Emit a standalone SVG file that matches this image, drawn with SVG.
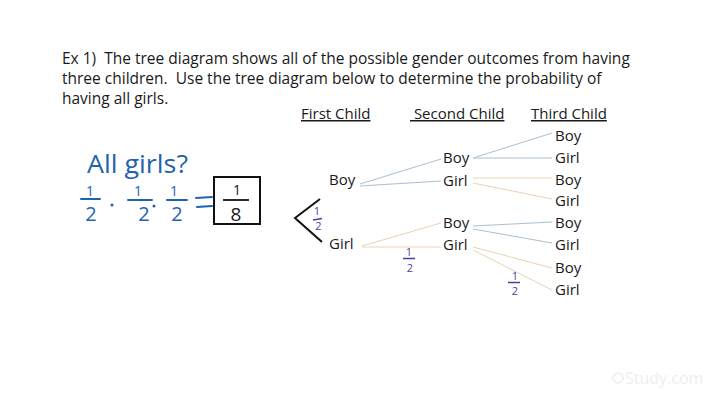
<svg xmlns="http://www.w3.org/2000/svg" width="715" height="402" viewBox="0 0 715 402">
<style>
.t{font-family:"Open Sans","Liberation Sans",sans-serif;fill:#1a1a1a;white-space:pre}
.h{font-size:15.5px}
.n{font-size:15px}
.c{font-size:15px;text-decoration:underline}
.b{stroke:#a9bfd2;stroke-width:1;fill:none}
.g{stroke:#e8d2b4;stroke-width:1;fill:none}
.hw{font-family:"Open Sans","Liberation Sans",sans-serif;fill:#1f63b0}
.pu{font-family:"Open Sans","Liberation Sans",sans-serif;fill:#4b3f9a;font-size:11px}
.pl{stroke:#4b3f9a;stroke-width:1.5}
.bl{stroke:#1f63b0;stroke-width:2;fill:none;stroke-linecap:round}
</style>
<rect width="715" height="402" fill="#ffffff"/>
<g id="question">
<text class="t h" x="62" y="64">Ex 1)  The tree diagram shows all of the possible gender outcomes from having</text>
<text class="t h" x="62" y="84">three children.  Use the tree diagram below to determine the probability of</text>
<text class="t h" x="62" y="104">having all girls.</text>
</g>
<g id="headers">
<text class="t c" x="301" y="119">First Child</text>
<text class="t c" x="410" y="119"> Second Child</text>
<text class="t c" x="531" y="119">Third Child</text>
</g>
<g id="connectors">
<line class="b" x1="360" y1="184" x2="441" y2="159"/>
<line class="b" x1="360" y1="186" x2="441" y2="181"/>
<line class="g" x1="362" y1="246" x2="441" y2="223"/>
<line class="g" x1="362" y1="247" x2="441" y2="247"/>
<line class="b" x1="473" y1="158" x2="552" y2="133"/>
<line class="b" x1="473" y1="158" x2="552" y2="158"/>
<line class="g" x1="473" y1="178" x2="552" y2="178"/>
<line class="g" x1="473" y1="183" x2="552" y2="199"/>
<line class="b" x1="473" y1="226" x2="552" y2="222"/>
<line class="b" x1="473" y1="229" x2="552" y2="243"/>
<line class="g" x1="473" y1="247" x2="552" y2="268"/>
<line class="g" x1="473" y1="250" x2="552" y2="290"/>
<polyline points="320,199 295,218 322,242" fill="none" stroke="#111" stroke-width="2"/>
</g>
<g id="n1-boy"><text class="t n" x="329" y="185">Boy</text></g>
<g id="n1-girl"><text class="t n" x="329" y="249">Girl</text></g>
<g id="n2-boy-a"><text class="t n" x="443" y="163">Boy</text></g>
<g id="n2-girl-a"><text class="t n" x="443" y="186">Girl</text></g>
<g id="n2-boy-b"><text class="t n" x="443" y="228">Boy</text></g>
<g id="n2-girl-b"><text class="t n" x="443" y="250">Girl</text></g>
<g id="n3-1"><text class="t n" x="555" y="141">Boy</text></g>
<g id="n3-2"><text class="t n" x="555" y="163">Girl</text></g>
<g id="n3-3"><text class="t n" x="555" y="185">Boy</text></g>
<g id="n3-4"><text class="t n" x="555" y="206">Girl</text></g>
<g id="n3-5"><text class="t n" x="555" y="228">Boy</text></g>
<g id="n3-6"><text class="t n" x="555" y="250">Girl</text></g>
<g id="n3-7"><text class="t n" x="555" y="273">Boy</text></g>
<g id="n3-8"><text class="t n" x="555" y="295">Girl</text></g>
<g id="half-labels">
<text class="pu" x="317" y="215" text-anchor="middle" font-size="7">1</text>
<line class="pl" x1="313" y1="220" x2="322" y2="218.5"/>
<text class="pu" x="318.5" y="229.5" text-anchor="middle" font-size="9">2</text>
<text class="pu" x="409" y="256" text-anchor="middle" font-size="7">1</text>
<line class="pl" x1="403" y1="258.5" x2="415" y2="258.5"/>
<text class="pu" x="410" y="272" text-anchor="middle">2</text>
<text class="pu" x="515" y="280" text-anchor="middle" font-size="7">1</text>
<line class="pl" x1="508" y1="282.5" x2="520" y2="282.5"/>
<text class="pu" x="515" y="295" text-anchor="middle">2</text>
</g>
<g id="handwriting">
<text class="hw" x="87" y="173" font-size="26" textLength="101" lengthAdjust="spacingAndGlyphs">All girls?</text>
<text class="hw" x="90" y="196" font-size="14" text-anchor="middle">1</text>
<line class="bl" x1="81" y1="199" x2="100" y2="199"/>
<text class="hw" x="91" y="221" font-size="20" text-anchor="middle">2</text>
<circle cx="112" cy="205" r="1.5" fill="#1f63b0"/>
<text class="hw" x="138" y="196" font-size="14" text-anchor="middle">1</text>
<line class="bl" x1="128" y1="200" x2="152" y2="200"/>
<text class="hw" x="144" y="221" font-size="20" text-anchor="middle">2</text>
<circle cx="154" cy="206" r="1.5" fill="#1f63b0"/>
<text class="hw" x="174" y="196" font-size="14" text-anchor="middle">1</text>
<line class="bl" x1="167" y1="200" x2="187" y2="200"/>
<text class="hw" x="177" y="221" font-size="20" text-anchor="middle">2</text>
<line class="bl" x1="196" y1="198" x2="212" y2="197"/>
<line class="bl" x1="197" y1="207" x2="212" y2="206"/>
</g>
<g id="answer-box">
<rect x="214" y="177" width="46" height="47" fill="none" stroke="#111" stroke-width="2"/>
<text class="t" x="237" y="195" font-size="14" text-anchor="middle" fill="#111">1</text>
<line x1="223" y1="200" x2="249" y2="200" stroke="#111" stroke-width="1.8"/>
<text class="t" x="236" y="221" font-size="19" text-anchor="middle" fill="#111">8</text>
</g>
<g id="watermark">
<circle cx="618" cy="378" r="5" fill="none" stroke="#eeeeee" stroke-width="1.5"/>
<text x="625" y="384" font-family="Open Sans, Liberation Sans, sans-serif" font-size="16" fill="#eeeeee">Study.com</text>
</g>
</svg>
